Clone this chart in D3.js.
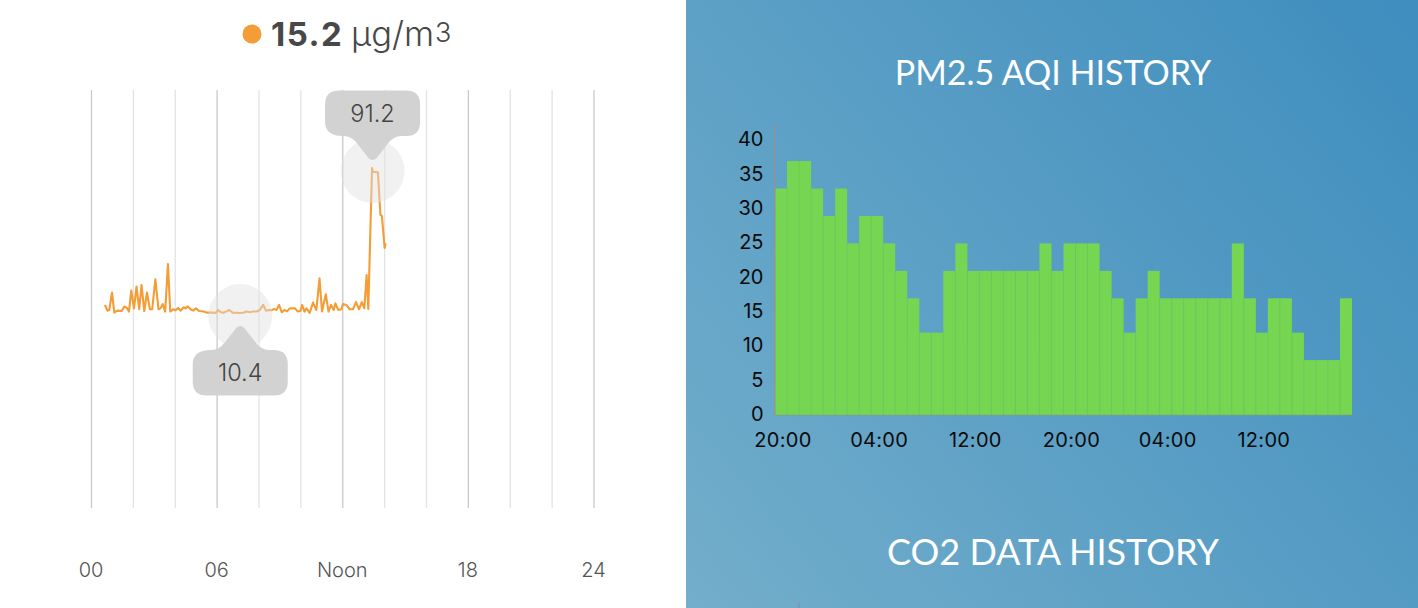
<!DOCTYPE html>
<html>
<head>
<meta charset="utf-8">
<title>Air quality history</title>
<script src="https://cdn.jsdelivr.net/npm/d3@7"></script>
<style>
  html, body { margin: 0; padding: 0; background: #fff; overflow: hidden; }
  svg { display: block; }
</style>
</head>
<body>
<div id="chart"></div>
<script>
// left chart: daily PM2.5 line
const lineHours = [0.64,0.76,0.85,0.98,1.09,1.23,1.44,1.57,1.68,1.79,1.90,2.03,2.15,2.28,2.39,2.52,2.65,2.79,2.90,3.05,3.20,3.30,3.40,3.52,3.65,3.76,3.90,4.02,4.14,4.25,4.40,4.49,4.60,4.73,4.86,4.99,5.14,5.34,5.53,5.73,5.94,6.05,6.16,6.29,6.45,6.58,6.74,6.93,7.08,7.24,7.40,7.56,7.72,7.88,8.04,8.20,8.33,8.45,8.60,8.72,8.83,8.96,9.09,9.22,9.34,9.47,9.60,9.72,9.85,9.98,10.06,10.17,10.27,10.42,10.58,10.74,10.89,11.01,11.19,11.32,11.44,11.57,11.65,11.78,11.94,12.01,12.17,12.33,12.49,12.63,12.78,12.91,13.03,13.14,13.22,13.40,13.44,13.68,13.80,13.87,14.00,14.05];
const lineValues = [14.9,11.7,12.1,21.8,10.6,11.7,11.5,14.0,13.4,11.2,22.9,13.0,25.1,12.5,26.0,11.5,21.8,12.5,12.5,29.2,12.5,13.0,15.4,11.2,37.7,11.2,12.5,11.9,13.2,11.7,13.6,13.0,14.1,12.5,11.7,13.0,11.5,11.2,10.6,10.6,10.5,12.1,11.0,10.5,11.3,12.1,10.6,10.5,10.4,10.5,11.2,10.8,11.2,11.2,12.1,14.9,11.7,12.1,11.9,12.7,12.1,14.9,10.8,12.1,11.3,13.0,13.0,13.0,11.2,11.5,14.9,11.2,13.0,10.5,16.2,12.1,29.7,11.2,20.8,11.2,14.9,12.1,15.8,12.1,12.5,15.4,14.9,12.5,12.5,16.5,12.5,16.5,13.0,31.6,12.7,91.2,89.1,88.8,65.0,64.5,46.6,49.2];
const hourGrid = [0,2,4,6,8,10,12,14,16,18,20,22,24];
const hourTicks = [0,6,12,18,24];
const hourLabels = ["00","06","Noon","18","24"];
const currentValue = "15.2";
const lowValue = 10.4, lowHour = 7.08;
const highValue = 91.2, highHour = 13.4;

// right chart: PM2.5 AQI bars
const aqiValues = [33,37,37,33,29,33,25,29,29,25,21,17,12,12,21,25,21,21,21,21,21,21,25,21,25,25,25,21,17,12,17,21,17,17,17,17,17,17,25,17,12,17,17,12,8,8,8,17];
const aqiTicks = [0,5,10,15,20,25,30,35,40];
const aqiLabels = ["20:00","04:00","12:00","20:00","04:00","12:00"];

const width = 1418, height = 608;
const sansFont = "Inter, 'Liberation Sans', sans-serif";

const svg = d3.select("#chart").append("svg")
  .attr("width", width)
  .attr("height", height);

// blue panel
const grad = svg.append("defs").append("linearGradient")
  .attr("id", "panelBg")
  .attr("gradientUnits", "userSpaceOnUse")
  .attr("x1", 686).attr("y1", 608)
  .attr("x2", 1418).attr("y2", 0);
grad.append("stop").attr("offset", "0%").attr("stop-color", "#73aecb");
grad.append("stop").attr("offset", "100%").attr("stop-color", "#3e8dbe");

svg.append("rect")
  .attr("x", 686).attr("y", 0)
  .attr("width", 732).attr("height", 608)
  .attr("fill", "url(#panelBg)");

// ---- left chart
const x = d3.scaleLinear().domain([0, 24]).range([91.5, 594]);
const y = d3.scaleLinear().domain([-98.2, 134.6]).range([508, 90]);

const left = svg.append("g");

left.selectAll("line.grid")
  .data(hourGrid)
  .join("line")
  .attr("class", "grid")
  .attr("x1", d => x(d)).attr("x2", d => x(d))
  .attr("y1", 90).attr("y2", 508)
  .attr("stroke", d => hourTicks.includes(d) ? "#c9c9c9" : "#e3e3e3")
  .attr("stroke-width", 1.3);

const line = d3.line()
  .x((d, i) => x(lineHours[i]))
  .y(d => y(d));

left.append("path")
  .datum(lineValues)
  .attr("d", line)
  .attr("fill", "none")
  .attr("stroke", "#f49c35")
  .attr("stroke-width", 2.1)
  .attr("stroke-linejoin", "round");

// halos sit over the line and wash it out a little
left.selectAll("circle.halo")
  .data([[lowHour, lowValue], [highHour, highValue]])
  .join("circle")
  .attr("class", "halo")
  .attr("cx", d => x(d[0]) + 0.5)
  .attr("cy", d => y(d[1]) + 3)
  .attr("r", 32)
  .attr("fill", "#e0e0e0")
  .attr("fill-opacity", 0.45);

// callout bubble, dir -1 sits above the point, +1 below
function callout(hour, value, dir) {
  const cx = x(hour) + 0.5;
  const tip = y(value) + (dir < 0 ? -7 : 12);
  const near = tip + dir * 25;
  const far = near + dir * 45.5;
  const w = 47.5, r = 14;
  const p = d3.path();
  p.moveTo(cx - 4, tip + dir * 3);
  p.quadraticCurveTo(cx, tip - dir * 1, cx + 4, tip + dir * 3);
  p.lineTo(cx + 15, near - dir * 8);
  p.quadraticCurveTo(cx + 21, near, cx + 29, near);
  p.lineTo(cx + w - r, near);
  p.quadraticCurveTo(cx + w, near, cx + w, near + dir * r);
  p.lineTo(cx + w, far - dir * r);
  p.quadraticCurveTo(cx + w, far, cx + w - r, far);
  p.lineTo(cx - w + r, far);
  p.quadraticCurveTo(cx - w, far, cx - w, far - dir * r);
  p.lineTo(cx - w, near + dir * r);
  p.quadraticCurveTo(cx - w, near, cx - 29, near);
  p.quadraticCurveTo(cx - 21, near, cx - 15, near - dir * 8);
  p.closePath();
  left.append("path")
    .attr("d", p.toString())
    .attr("fill", "#d2d2d2");
  left.append("text")
    .attr("x", cx)
    .attr("y", (near + far) / 2 + 8.5)
    .attr("text-anchor", "middle")
    .attr("font-family", sansFont)
    .attr("font-size", 23.5)
    .attr("font-weight", 300)
    .attr("fill", "#444")
    .text(value.toFixed(1));
}
callout(lowHour, lowValue, 1);
callout(highHour, highValue, -1);

const hourAxis = d3.axisBottom(x)
  .tickValues(hourTicks)
  .tickFormat((d, i) => hourLabels[i])
  .tickSize(0)
  .tickPadding(0);

const hourG = left.append("g")
  .attr("transform", "translate(-1,563)")
  .call(hourAxis);
hourG.select(".domain").remove();
hourG.selectAll("text")
  .attr("font-family", sansFont)
  .attr("font-size", 20)
  .attr("font-weight", 300)
  .attr("fill", "#555");

// header with current reading
left.append("circle")
  .attr("cx", 252).attr("cy", 34).attr("r", 9.5)
  .attr("fill", "#f49c35");

const header = left.append("text")
  .attr("y", 46)
  .attr("font-family", sansFont)
  .attr("font-size", 33)
  .attr("fill", "#484848");
header.append("tspan")
  .attr("x", 271)
  .attr("font-weight", 700)
  .attr("letter-spacing", 1.5)
  .text(currentValue);
header.append("tspan")
  .attr("x", 351)
  .attr("font-size", 34.5)
  .attr("font-weight", 300)
  .text("µg/m");
header.append("tspan")
  .attr("x", 435)
  .attr("y", 42)
  .attr("font-weight", 300)
  .attr("font-size", 27)
  .text("3");

// ---- right chart
const xBar = d3.scaleBand().domain(d3.range(aqiValues.length)).range([775, 1352]);
const yBar = d3.scaleLinear().domain([0, 42.5]).range([415, 123.3]);

const right = svg.append("g");

right.selectAll("rect.bar")
  .data(aqiValues)
  .join("rect")
  .attr("class", "bar")
  .attr("x", (d, i) => xBar(i))
  .attr("y", d => yBar(d))
  .attr("width", xBar.bandwidth())
  .attr("height", d => yBar(0) - yBar(d))
  .attr("fill", "#76d551");

// thin darker seams between neighbouring bars
right.selectAll("line.seam")
  .data(aqiValues.slice(1))
  .join("line")
  .attr("class", "seam")
  .attr("x1", (d, i) => xBar(i + 1)).attr("x2", (d, i) => xBar(i + 1))
  .attr("y1", (d, i) => yBar(Math.min(d, aqiValues[i])))
  .attr("y2", yBar(0))
  .attr("stroke", "#6cc75a")
  .attr("stroke-width", 0.7);

const aqiAxis = d3.axisLeft(yBar)
  .tickValues(aqiTicks)
  .tickSize(0)
  .tickPadding(11);

const aqiG = right.append("g")
  .attr("transform", "translate(774.5,0)")
  .call(aqiAxis);
aqiG.select(".domain")
  .attr("stroke", "#9a8f86")
  .attr("stroke-width", 1);
aqiG.selectAll("text")
  .attr("font-family", sansFont)
  .attr("font-size", 20)
  .attr("fill", "#0a0a0a")
  .attr("dy", "0.27em");

const timeAxis = d3.axisBottom(xBar)
  .tickValues(d3.range(0, 48, 8))
  .tickFormat((d, i) => aqiLabels[i])
  .tickSize(0)
  .tickPadding(0);

const timeG = right.append("g")
  .attr("transform", "translate(2,433)")
  .call(timeAxis);
timeG.select(".domain").remove();
timeG.selectAll("text")
  .attr("font-family", sansFont)
  .attr("font-size", 20)
  .attr("letter-spacing", 0.3)
  .attr("fill", "#0a0a0a");

right.append("line")
  .attr("x1", 774.5).attr("x2", 1352)
  .attr("y1", 415).attr("y2", 415)
  .attr("stroke", "#8aa06f")
  .attr("stroke-opacity", 0.6)
  .attr("stroke-width", 1);

// section titles
right.selectAll("text.title")
  .data([["PM2.5 AQI HISTORY", 85, 34], ["CO2 DATA HISTORY", 565, 36]])
  .join("text")
  .attr("class", "title")
  .attr("x", 1053)
  .attr("y", d => d[1])
  .attr("text-anchor", "middle")
  .attr("font-family", "Lato, sans-serif")
  .attr("font-size", d => d[2])
  .attr("fill", "#fff")
  .text(d => d[0]);

// top of the next chart's axis just showing at the bottom edge
right.append("line")
  .attr("x1", 799).attr("x2", 799)
  .attr("y1", 603).attr("y2", 608)
  .attr("stroke", "#7f8f9a")
  .attr("stroke-width", 1);
</script>
</body>
</html>
